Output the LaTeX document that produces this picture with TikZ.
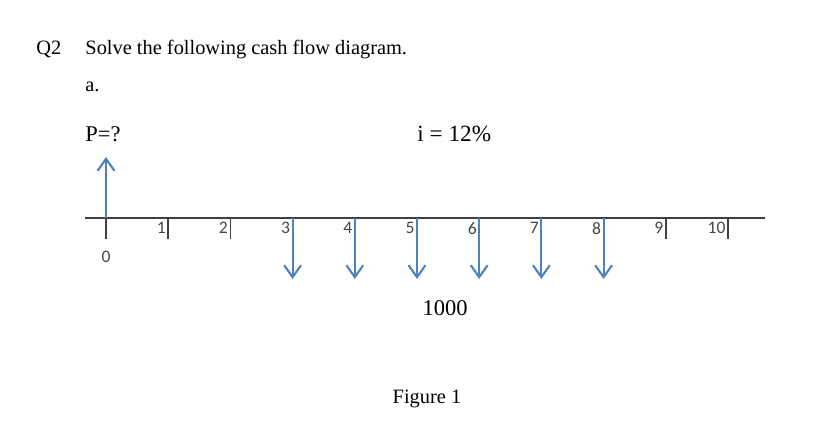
\documentclass[tikz,border=0pt]{standalone}
\usepackage{fontspec}
\setmainfont{Liberation Serif}
\newfontfamily\ticksf{Carlito}
\usetikzlibrary{arrows.meta,positioning}
\definecolor{flowblue}{RGB}{79,129,189}
\definecolor{axisgrey}{RGB}{64,64,64}
\definecolor{labelgrey}{RGB}{70,70,70}

\begin{document}
\begin{tikzpicture}[x=0.025cm, y=-0.025cm, >={Straight Barb[length=8.5pt,width=12pt]}, semithick]
        \tikzstyle{every node}=[inner sep=0pt]
        \tikzstyle{txt}=[font=\fontsize{14.5}{17}\selectfont, anchor=base west]
        \tikzstyle{tick label}=[font=\ticksf\fontsize{12.5}{14}\selectfont, text=labelgrey]
        \tikzstyle{flow}=[->, draw=flowblue, line width=1.5pt]
        \tikzstyle{tick}=[draw=axisgrey, line width=1.1pt]
        \useasboundingbox (0,0) rectangle (819,431);

        % question text
        \node[txt] (q)    at (36,55)   {Q2};
        \node[txt] (task) at (85,55)   {Solve the following cash flow diagram.};
        \node[txt] (part) at (85,92)   {a.};
        \node[txt, font=\fontsize{16}{19}\selectfont] (P)    at (85,142)  {P=?};
        \node[txt, font=\fontsize{16.5}{19}\selectfont] (rate) at (417,142) {i = 12\%};

        % time line
        \coordinate (axL) at (85,218);
        \coordinate (axR) at (765,218);
        \draw[tick] (axL) -- (axR);
        \foreach \k in {0,...,10} {
            \coordinate (t\k) at ({106+62.2*\k},218);
            \coordinate (b\k) at ({106+62.2*\k},239);
            \coordinate (d\k) at ({106+62.2*\k},279);
        }
        \foreach \k in {0,1,2,9,10}
            \draw[tick] (t\k) -- (b\k);
        \foreach \k in {1,...,10}
            \node[tick label, anchor=north east] (l\k) at ([xshift=-1.5pt,yshift=-2.8pt]t\k) {\k};
        \node[tick label] (l0) at (106,257) {0};

        % cash flows
        \coordinate (p0) at (106,157);
        \draw[flow] (t0) -- (p0);
        \foreach \k in {3,...,8}
            \draw[flow] (t\k) -- (d\k);

        \node[txt, anchor=base, font=\fontsize{16}{19}\selectfont] (amount) at (445,315) {1000};
        \node[txt, anchor=base] (fig) at (427,403) {Figure 1};
\end{tikzpicture}
\end{document}
